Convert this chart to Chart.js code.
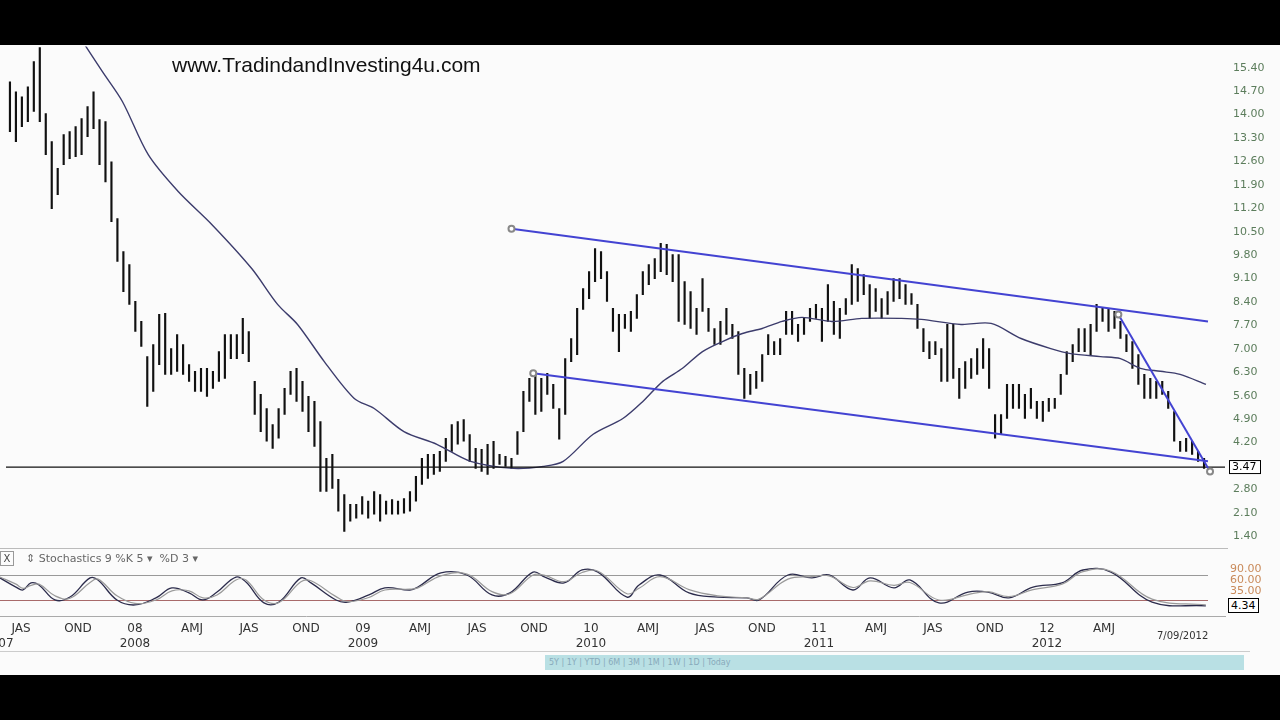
<!DOCTYPE html>
<html><head><meta charset="utf-8">
<script src="https://cdn.jsdelivr.net/npm/chart.js@4/dist/chart.umd.min.js"></script>
<style>
body{margin:0;background:#000;width:1280px;height:720px;overflow:hidden;font-family:"DejaVu Sans",sans-serif}
#panel{position:absolute;left:0;top:45px;width:1280px;height:630px;background:#fbfbfb}
.abs{position:absolute;white-space:nowrap}
canvas{position:absolute}
</style></head><body>
<div id="panel"></div>
<canvas id="main" width="1280" height="516" style="left:0;top:40px"></canvas>
<canvas id="stoch" width="1280" height="90" style="left:0;top:560px"></canvas>
<div class="abs" style="left:172px;top:53px;font:21px 'Liberation Sans',Arial;color:#111">www.TradindandInvesting4u.com</div>
<div class="abs" style="left:0;top:548px;width:1228px;height:1px;background:#bbb"></div>
<div class="abs" style="left:0;top:551px;width:12px;height:13px;border:1px solid #999;font:10px 'DejaVu Sans';color:#444;text-align:center;line-height:13px">X</div>
<div class="abs" style="left:26px;top:552px;font:11px 'DejaVu Sans';color:#666">⇕ Stochastics 9 %K 5 ▾ &nbsp;%D 3 ▾</div>
<div class="abs" style="left:1230px;top:563px;font:11px 'DejaVu Sans';color:#c98a5a;line-height:11px">90.00<br>60.00<br>35.00</div>
<div class="abs" style="left:1228px;top:598px;font:11px 'DejaVu Sans';color:#000;border:1px solid #000;padding:0 2px;background:#fff;line-height:13px">4.34</div>
<div class="abs" style="left:-17px;top:636px;font:12px 'DejaVu Sans';color:#333">2007</div>
<div class="abs" style="left:1157px;top:630px;font:10px 'DejaVu Sans';color:#333">7/09/2012</div>
<div class="abs" style="left:0;top:651px;width:1250px;height:1px;background:#ccc"></div>
<div class="abs" style="left:545px;top:655px;width:695px;height:15px;background:#b9e0e4;font:8px 'DejaVu Sans';color:#8ab;line-height:15px;padding-left:4px">5Y | 1Y | YTD | 6M | 3M | 1M | 1W | 1D | Today</div>
<script>
const barStart = 2007.4254, barStep = 0.026316;
const highs = [14.98,14.68,14.53,14.83,15.58,16.0,14.03,13.19,12.39,13.40,13.49,13.64,13.88,14.24,14.68,13.85,13.79,12.59,10.89,9.91,9.52,8.42,7.82,6.77,7.13,8.03,8.06,7.01,7.43,7.13,6.53,6.33,6.42,6.42,6.33,6.92,7.43,7.43,7.43,7.91,7.52,6.03,5.64,5.22,4.74,5.22,5.82,6.33,6.42,6.03,5.58,5.43,4.83,3.73,3.85,3.10,2.65,2.36,2.36,2.59,2.45,2.74,2.65,2.45,2.50,2.45,2.53,2.74,3.19,3.73,3.85,3.85,3.94,4.33,4.74,4.83,4.89,4.44,4.03,4.00,4.15,4.24,3.85,3.79,3.73,4.53,5.73,6.12,6.27,6.12,6.27,5.94,5.22,6.71,7.31,8.21,8.80,9.31,10.00,9.91,9.31,8.21,8.03,8.03,8.12,8.62,9.31,9.52,9.70,10.15,10.12,9.82,9.82,9.01,8.71,8.21,9.10,8.21,7.61,7.82,8.21,7.73,7.52,6.42,6.24,6.33,6.83,7.43,7.22,7.31,8.12,8.12,7.73,7.91,8.21,8.33,8.21,8.92,8.42,8.21,8.50,9.52,9.40,9.22,8.92,8.80,8.50,8.71,9.10,9.10,8.92,8.65,8.33,7.61,7.22,7.22,7.01,7.73,7.73,6.42,6.62,6.71,7.01,7.31,7.01,5.04,5.04,5.94,5.94,5.94,5.64,5.82,5.43,5.43,5.52,5.52,6.24,6.92,7.13,7.61,7.61,7.73,8.33,8.21,8.21,8.12,7.82,7.43,7.22,6.83,6.24,6.12,6.03,6.03,5.73,5.13,4.24,4.33,4.24,3.94,3.73];
const lows = [13.49,13.19,13.64,13.79,14.09,13.79,12.80,11.19,11.61,12.50,12.68,12.74,12.80,13.34,13.58,12.50,11.99,10.80,9.61,8.71,8.33,7.52,7.07,5.28,5.73,6.53,6.24,6.24,6.33,6.24,6.03,5.73,5.73,5.58,5.82,6.03,6.12,6.71,6.71,6.86,6.62,5.04,4.53,4.24,4.03,4.33,5.04,5.64,5.43,5.13,4.53,4.09,2.74,2.74,2.83,2.15,1.55,1.85,1.94,2.06,1.94,2.06,1.85,2.06,2.06,2.06,2.09,2.15,2.45,2.95,3.13,3.25,3.34,3.64,3.94,4.15,4.24,3.64,3.43,3.34,3.25,3.43,3.55,3.49,3.43,3.85,4.53,5.43,5.04,5.13,5.64,5.22,4.30,5.04,6.62,6.83,8.18,8.50,9.01,9.10,8.42,7.52,6.92,7.61,7.52,7.91,8.62,8.92,9.10,9.31,9.22,9.01,7.82,7.73,7.61,7.43,8.12,7.52,7.13,7.13,7.43,7.31,6.24,5.52,5.64,5.82,6.03,6.83,6.83,6.83,7.43,7.43,7.22,7.43,7.82,7.91,7.22,7.82,7.43,7.31,8.03,8.33,8.42,8.62,7.91,8.12,7.91,8.03,8.42,8.50,8.33,8.33,7.61,6.92,6.71,6.83,6.03,6.03,6.12,5.52,5.82,6.12,6.24,6.42,5.82,4.33,4.45,4.92,5.22,5.22,4.92,5.22,4.92,4.83,5.13,5.22,5.64,6.24,6.62,6.92,6.92,6.83,7.52,7.82,7.52,7.61,7.31,6.92,6.42,5.94,5.52,5.52,5.52,5.64,5.22,4.24,3.94,3.94,3.85,3.64,3.43];
const lastClose = 3.47;
const maDates = [2007.746,2007.833,2007.921,2008.035,2008.167,2008.316,2008.491,2008.605,2008.693,2008.811,2008.943,2009.031,2009.162,2009.307,2009.456,2009.645,2009.776,2009.864,2009.996,2010.127,2010.215,2010.303,2010.390,2010.478,2010.566,2010.654,2010.741,2010.829,2010.917,2011.048,2011.180,2011.355,2011.443,2011.618,2011.750,2011.882,2012.013,2012.101,2012.232,2012.320,2012.408,2012.496,2012.583,2012.697];
const maValues = [16.18,15.28,14.39,12.80,11.70,10.71,9.40,8.33,7.73,6.62,5.52,5.22,4.53,4.15,3.64,3.43,3.49,3.64,4.45,4.92,5.43,6.03,6.42,6.92,7.22,7.46,7.61,7.82,7.94,7.82,7.91,7.91,7.88,7.73,7.76,7.31,7.01,6.86,6.77,6.71,6.42,6.33,6.24,5.94];
const upperLine = [[2009.636,10.59],[2012.706,7.82]];
const lowerLine = [[2009.732,6.27],[2012.706,3.64]];
const steepLine = [[2012.311,8.03],[2012.715,3.34]];
const yTicks = [1.40,2.10,2.80,3.47,4.20,4.90,5.60,6.30,7.00,7.70,8.40,9.10,9.80,10.50,11.20,11.90,12.60,13.30,14.00,14.70,15.40];
const stochDates = [2007.408,2007.478,2007.509,2007.544,2007.579,2007.649,2007.715,2007.803,2007.838,2007.921,2008.000,2008.092,2008.162,2008.237,2008.298,2008.360,2008.443,2008.487,2008.566,2008.632,2008.728,2008.772,2008.882,2008.934,2009.026,2009.096,2009.206,2009.241,2009.342,2009.456,2009.566,2009.645,2009.746,2009.798,2009.882,2009.961,2010.031,2010.158,2010.211,2010.303,2010.430,2010.557,2010.684,2010.737,2010.864,2010.969,2011.044,2011.149,2011.224,2011.329,2011.399,2011.526,2011.654,2011.741,2011.833,2011.939,2012.066,2012.158,2012.281,2012.461,2012.697];
const stochK = [73,51,44,61,56,20,27,73,68,20,8,25,49,37,20,39,75,63,13,15,73,61,20,15,32,49,44,51,85,80,32,37,87,75,61,92,87,27,56,80,37,27,25,20,80,73,80,44,73,49,68,13,39,39,25,51,61,92,87,15,6];
const stochD = [75,58,48,55,58,30,24,62,70,30,12,20,42,42,25,32,68,68,20,14,64,66,28,16,26,44,46,49,78,82,40,35,80,79,64,86,89,35,48,76,45,30,25,22,70,76,78,50,66,55,62,20,33,40,28,45,58,88,89,22,8];
const qTicks = [2007.5,2007.75,2008,2008.25,2008.5,2008.75,2009,2009.25,2009.5,2009.75,2010,2010.25,2010.5,2010.75,2011,2011.25,2011.5,2011.75,2012,2012.25];
const qLabels = ['JAS','OND','08','AMJ','JAS','OND','09','AMJ','JAS','OND','10','AMJ','JAS','OND','11','AMJ','JAS','OND','12','AMJ'];
const yearLabels = {'08':'2008','09':'2009','10':'2010','11':'2011','12':'2012'};

const xMin = 2007.408, xMax = 2012.781;
const bars = highs.map((h,i)=>({x:barStart+i*barStep, y:[lows[i],h]}));
const seg = (arr)=>arr.map(p=>({x:p[0],y:p[1]}));
const blue = '#4343d2';
const boxPlugin = {id:'box', afterDraw(c){
  const y=c.scales.y, ctx=c.ctx, py=y.getPixelForValue(lastClose);
  ctx.save(); ctx.font='11px "DejaVu Sans"';
  ctx.fillStyle='#fff'; ctx.fillRect(1229,py-7,32,14);
  ctx.strokeStyle='#000'; ctx.lineWidth=1; ctx.strokeRect(1229.5,py-6.5,31,13);
  ctx.fillStyle='#000'; ctx.textBaseline='middle'; ctx.fillText(lastClose.toFixed(2),1232,py+0.5);
  ctx.restore();
}};
new Chart(document.getElementById('main'),{
  type:'bar',
  data:{datasets:[
    {type:'bar',data:bars,backgroundColor:'#111',barThickness:1.5,grouped:false,order:3},
    {type:'line',data:maDates.map((d,i)=>({x:d,y:maValues[i]})),borderColor:'#3c3c6c',borderWidth:1.4,pointRadius:0,tension:0.3,order:2},
    {type:'line',data:[{x:xMin,y:lastClose},{x:xMax,y:lastClose}],borderColor:'#111',borderWidth:1.3,pointRadius:0,order:1},
    {type:'line',data:seg(upperLine),borderColor:blue,borderWidth:2,pointRadius:[3,0],pointBackgroundColor:'#fff',pointBorderColor:'#888',order:0},
    {type:'line',data:seg(lowerLine),borderColor:blue,borderWidth:2,pointRadius:[3,0],pointBackgroundColor:'#fff',pointBorderColor:'#888',order:0},
    {type:'line',data:seg(steepLine),borderColor:blue,borderWidth:2,pointRadius:3,pointBackgroundColor:'#fff',pointBorderColor:'#888',order:0}
  ]},
  options:{animation:false,responsive:false,events:[],layout:{padding:0},
    plugins:{legend:{display:false},tooltip:{enabled:false}},
    scales:{
      x:{type:'linear',min:xMin,max:xMax,display:false,offset:false},
      y:{position:'right',min:1.01,max:16.03,grid:{display:false},border:{display:false},
        afterFit(s){s.width=55;},
        afterBuildTicks(s){s.ticks=yTicks.filter(v=>v!==lastClose).map(v=>({value:v}));},
        ticks:{padding:0,color:'#5c7d5c',font:{family:'DejaVu Sans',size:11},callback:v=>v.toFixed(2)}}
    }},
  plugins:[boxPlugin]
});
const stochLines = {id:'sl', beforeDatasetsDraw(c){
  const ctx=c.ctx,a=c.chartArea,y=c.scales.y;
  ctx.save();
  [[80,'#999'],[20,'#a86a6a']].forEach(([v,col])=>{const p=Math.round(y.getPixelForValue(v))+0.5;
    ctx.strokeStyle=col;ctx.lineWidth=1;ctx.beginPath();ctx.moveTo(a.left,p);ctx.lineTo(1208,p);ctx.stroke();});
  ctx.restore();
}};
new Chart(document.getElementById('stoch'),{
  type:'line',
  data:{datasets:[
    {data:stochDates.map((d,i)=>({x:d,y:stochD[i]})),borderColor:'#9a9a9a',borderWidth:1.2,pointRadius:0,tension:0.4},
    {data:stochDates.map((d,i)=>({x:d,y:stochK[i]})),borderColor:'#2c2c4c',borderWidth:1.3,pointRadius:0,tension:0.4}
  ]},
  options:{animation:false,responsive:false,events:[],layout:{padding:{right:55,left:0,top:0,bottom:0}},
    plugins:{legend:{display:false},tooltip:{enabled:false}},
    scales:{
      x:{type:'linear',min:xMin,max:xMax,grid:{display:false,drawTicks:false},border:{display:true,color:'#aaa'},
        afterFit(s){s.height=34;},
        afterBuildTicks(s){s.ticks=qTicks.map(v=>({value:v}));},
        ticks:{autoSkip:false,maxRotation:0,padding:6,color:'#333',font:{family:'DejaVu Sans',size:12,lineHeight:1.2},
          callback:(v,i)=>{const l=qLabels[i];return yearLabels[l]?[l,yearLabels[l]]:l;}}},
      y:{display:false,min:-18.5,max:116}
    }},
  plugins:[stochLines]
});
</script></body></html>
